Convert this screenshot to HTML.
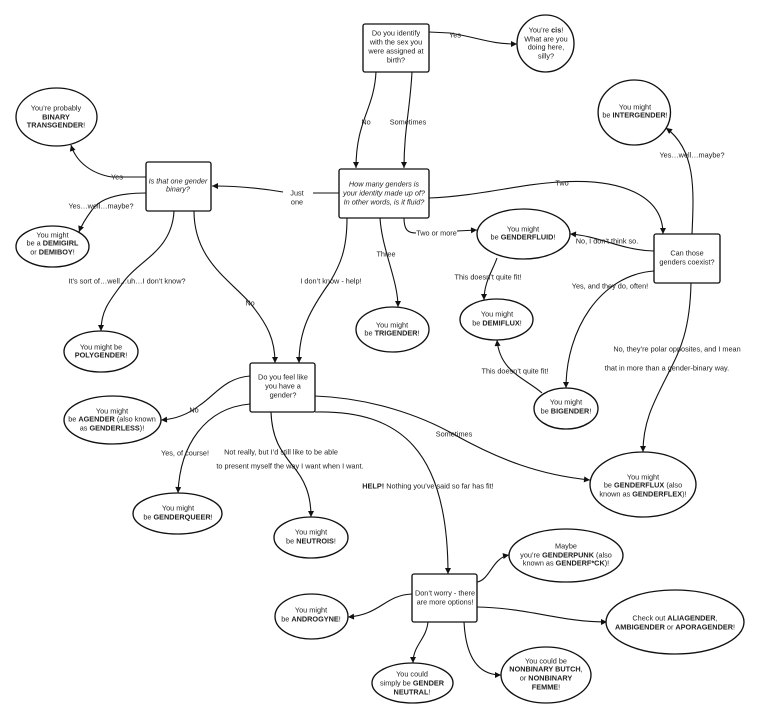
<!DOCTYPE html>
<html><head><meta charset="utf-8"><style>
html,body{margin:0;padding:0;background:#fff;}
svg{display:block;}
text{font-family:"Liberation Sans",Arial,sans-serif;font-size:7.3px;fill:#222;}
.b{font-weight:bold;}
.i{font-style:italic;}
.ln{fill:none;stroke:#111;stroke-width:1.1;}
.sh{fill:#fff;stroke:#111;stroke-width:1.35;}
</style></head><body>
<svg width="760" height="720" viewBox="0 0 760 720" xmlns="http://www.w3.org/2000/svg">
<defs>
<marker id="a" viewBox="0 0 10 10" refX="10" refY="5" markerWidth="7" markerHeight="6" markerUnits="userSpaceOnUse" orient="auto"><path d="M0,0 L10,5 L0,10 z" fill="#111"/></marker>
</defs>
<rect width="760" height="720" fill="#fff"/>

<!-- connectors -->
<g class="ln">
<path d="M429,32 L450,33 C480,38 490,44 517,44" marker-end="url(#a)"/>
<path d="M376,72 C374,110 356,120 356,168" marker-end="url(#a)"/>
<path d="M412,72 C410,110 404,130 404,168" marker-end="url(#a)"/>
<path d="M339,193 L313,193"/>
<path d="M283,192 C260,188 240,186 212,186" marker-end="url(#a)"/>
<path d="M146,177 L112,177 C92,174 76,162 71,145" marker-end="url(#a)"/>
<path d="M146,193 C120,193 100,198 92,210 C86,218 82,224 79,232" marker-end="url(#a)"/>
<path d="M174,211 C172,250 140,260 125,280 C110,300 101,310 101,331" marker-end="url(#a)"/>
<path d="M194,211 C194,260 230,280 250,303 C268,325 275,340 275,363" marker-end="url(#a)"/>
<path d="M347,218 C347,250 340,265 330,282 C310,310 299,330 299,363" marker-end="url(#a)"/>
<path d="M380,218 C382,250 398,280 398,307" marker-end="url(#a)"/>
<path d="M404,218 C404,230 408,233 416,233"/>
<path d="M457,231 L477,230" marker-end="url(#a)"/>
<path d="M429,198 C480,196 520,184 560,182 C620,178 663,195 663,234" marker-end="url(#a)"/>
<path d="M692,234 C694,190 696,150 666,128" marker-end="url(#a)"/>
<path d="M654,251 C620,250 600,236 570,234" marker-end="url(#a)"/>
<path d="M654,271 C600,275 566,330 566,388" marker-end="url(#a)"/>
<path d="M691,283 C690,330 680,350 670,370 C655,400 643,420 643,452" marker-end="url(#a)"/>
<path d="M497,258 C493,270 484,282 484,300" marker-end="url(#a)"/>
<path d="M542,393 C525,378 500,372 497,340" marker-end="url(#a)"/>
<path d="M250,376 C225,378 215,395 200,405 C190,413 178,419 161,420" marker-end="url(#a)"/>
<path d="M250,404 C205,408 180,445 178,493" marker-end="url(#a)"/>
<path d="M271,412 C272,440 282,452 292,465 C305,480 311,495 311,517" marker-end="url(#a)"/>
<path d="M315,396 C370,398 420,415 455,435 C500,460 540,475 590,480" marker-end="url(#a)"/>
<path d="M315,412 C400,410 448,450 448,574" marker-end="url(#a)"/>
<path d="M477,582 C490,580 492,558 509,555" marker-end="url(#a)"/>
<path d="M412,594 C385,595 380,615 348,617" marker-end="url(#a)"/>
<path d="M477,607 C530,608 560,622 607,622" marker-end="url(#a)"/>
<path d="M428,622 C426,640 413,645 413,663" marker-end="url(#a)"/>
<path d="M464,622 C466,660 480,675 501,675" marker-end="url(#a)"/>
</g>

<!-- shapes -->
<g class="sh">
<rect x="363" y="24" width="66" height="48" rx="2"/>
<rect x="146" y="162" width="65" height="49" rx="2"/>
<rect x="339" y="169" width="90" height="49" rx="2"/>
<rect x="654" y="234" width="66" height="49" rx="2"/>
<rect x="250" y="363" width="65" height="49" rx="2"/>
<rect x="412" y="574" width="65" height="48" rx="2"/>
<ellipse cx="545.5" cy="43.5" rx="28.5" ry="28.5"/>
<ellipse cx="634.3" cy="112.5" rx="36.2" ry="32.5"/>
<ellipse cx="56.5" cy="117" rx="40.5" ry="29"/>
<ellipse cx="52.5" cy="246.5" rx="36.5" ry="20.5"/>
<ellipse cx="523.5" cy="234" rx="46.5" ry="25"/>
<ellipse cx="392.5" cy="329.5" rx="36.5" ry="22.5"/>
<ellipse cx="496.5" cy="319.5" rx="36.5" ry="20.5"/>
<ellipse cx="101" cy="351.5" rx="37" ry="20.5"/>
<ellipse cx="566" cy="408.5" rx="32" ry="20.5"/>
<ellipse cx="112.5" cy="420" rx="48.5" ry="24"/>
<ellipse cx="643" cy="484.5" rx="53" ry="32.5"/>
<ellipse cx="177.5" cy="513.5" rx="44.5" ry="20.5"/>
<ellipse cx="311" cy="537.5" rx="37" ry="20.5"/>
<ellipse cx="566" cy="555.5" rx="57" ry="26.5"/>
<ellipse cx="311.5" cy="616.5" rx="36.5" ry="22.5"/>
<ellipse cx="675" cy="622" rx="69" ry="32"/>
<ellipse cx="412.5" cy="683" rx="40.5" ry="20"/>
<ellipse cx="546" cy="675" rx="45" ry="28"/>
</g>

<!-- node text -->
<g text-anchor="middle">
<text x="396" y="35.5">Do you identify</text>
<text x="396" y="44.5">with the sex you</text>
<text x="396" y="53.5">were assigned at</text>
<text x="396" y="62.5">birth?</text>

<text x="546" y="32.5">You’re <tspan class="b">cis</tspan>!</text>
<text x="546" y="41.5">What are you</text>
<text x="546" y="49.5">doing here,</text>
<text x="546" y="58.5">silly?</text>

<text x="635" y="109.5">You might</text>
<text x="635" y="117.5">be <tspan class="b">INTERGENDER</tspan>!</text>

<text x="56" y="110.5">You’re probably</text>
<text x="56" y="119.5" class="b">BINARY</text>
<text x="56" y="127.5"><tspan class="b">TRANSGENDER</tspan>!</text>

<text class="i" x="178" y="183.5">Is that one gender</text>
<text class="i" x="178" y="191.5">binary?</text>

<text class="i" x="384" y="186.5">How many genders is</text>
<text class="i" x="384" y="195.5">your identity made up of?</text>
<text class="i" x="384" y="204.5">In other words, is it fluid?</text>

<text x="52.5" y="237.5">You might</text>
<text x="52.5" y="245.5">be a <tspan class="b">DEMIGIRL</tspan></text>
<text x="52.5" y="254.5">or <tspan class="b">DEMIBOY</tspan>!</text>

<text x="523" y="231.5">You might</text>
<text x="523" y="239.5">be <tspan class="b">GENDERFLUID</tspan>!</text>

<text x="687" y="255.5">Can those</text>
<text x="687" y="264.5">genders coexist?</text>

<text x="392" y="327.5">You might</text>
<text x="392" y="335.5">be <tspan class="b">TRIGENDER</tspan>!</text>

<text x="497" y="316.5">You might</text>
<text x="497" y="325.5">be <tspan class="b">DEMIFLUX</tspan>!</text>

<text x="101" y="349.5">You might be</text>
<text x="101" y="357.5"><tspan class="b">POLYGENDER</tspan>!</text>

<text x="283" y="379.5">Do you feel like</text>
<text x="283" y="388.5">you have a</text>
<text x="283" y="397.5">gender?</text>

<text x="566" y="404.5">You might</text>
<text x="566" y="413.5">be <tspan class="b">BIGENDER</tspan>!</text>

<text x="112" y="413.5">You might</text>
<text x="112" y="421.5">be <tspan class="b">AGENDER</tspan> (also known</text>
<text x="112" y="430.5">as <tspan class="b">GENDERLESS</tspan>)!</text>

<text x="643" y="479.5">You might</text>
<text x="643" y="487.5">be <tspan class="b">GENDERFLUX</tspan> (also</text>
<text x="643" y="496.5">known as <tspan class="b">GENDERFLEX</tspan>)!</text>

<text x="178" y="510.5">You might</text>
<text x="178" y="519.5">be <tspan class="b">GENDERQUEER</tspan>!</text>

<text x="311" y="534.5">You might</text>
<text x="311" y="543.5">be <tspan class="b">NEUTROIS</tspan>!</text>

<text x="445" y="595.5">Don’t worry - there</text>
<text x="445" y="604.5">are more options!</text>

<text x="566" y="548.5">Maybe</text>
<text x="566" y="557.5">you’re <tspan class="b">GENDERPUNK</tspan> (also</text>
<text x="566" y="565.5">known as <tspan class="b">GENDERF*CK</tspan>)!</text>

<text x="311" y="612.5">You might</text>
<text x="311" y="621.5">be <tspan class="b">ANDROGYNE</tspan>!</text>

<text x="675" y="620.5">Check out <tspan class="b">ALIAGENDER</tspan>,</text>
<text x="675" y="629.5"><tspan class="b">AMBIGENDER</tspan> or <tspan class="b">APORAGENDER</tspan>!</text>

<text x="412" y="676.5">You could</text>
<text x="412" y="685.5">simply be <tspan class="b">GENDER</tspan></text>
<text x="412" y="694.5"><tspan class="b">NEUTRAL</tspan>!</text>

<text x="546" y="663.5">You could be</text>
<text x="546" y="671.5"><tspan class="b">NONBINARY BUTCH</tspan>,</text>
<text x="546" y="680.5">or <tspan class="b">NONBINARY</tspan></text>
<text x="546" y="689.5"><tspan class="b">FEMME</tspan>!</text>
</g>

<!-- connector labels -->
<g text-anchor="middle">
<text x="455" y="37.5">Yes</text>
<text x="366" y="124.5">No</text>
<text x="408" y="124.5">Sometimes</text>
<text x="297" y="195.5">Just</text>
<text x="297" y="204.5">one</text>
<text x="117" y="179.5">Yes</text>
<text x="101" y="208.5">Yes…well…maybe?</text>
<text x="127" y="283.5">It’s sort of…well…uh…I don’t know?</text>
<text x="250" y="305.5">No</text>
<text x="331" y="283.5">I don’t know - help!</text>
<text x="386" y="256.5">Three</text>
<text x="436.5" y="235.5">Two or more</text>
<text x="562" y="185.5">Two</text>
<text x="692" y="157.5">Yes…well…maybe?</text>
<text x="607" y="243.5">No, I don’t think so.</text>
<text x="610" y="288.5">Yes, and they do, often!</text>
<text x="677" y="351.5">No, they’re polar opposites, and I mean</text>
<text x="667" y="370.5">that in more than a gender-binary way.</text>
<text x="488" y="279.5">This doesn’t quite fit!</text>
<text x="515" y="373.5">This doesn’t quite fit!</text>
<text x="194" y="412.5">No</text>
<text x="185" y="455.5">Yes, of course!</text>
<text x="281" y="454.5">Not really, but I’d still like to be able</text>
<text x="290" y="468.5">to present myself the way I want when I want.</text>
<text x="454" y="436.5">Sometimes</text>
<text x="428" y="488.5"><tspan class="b">HELP!</tspan> Nothing you’ve said so far has fit!</text>
</g>
</svg>
</body></html>
